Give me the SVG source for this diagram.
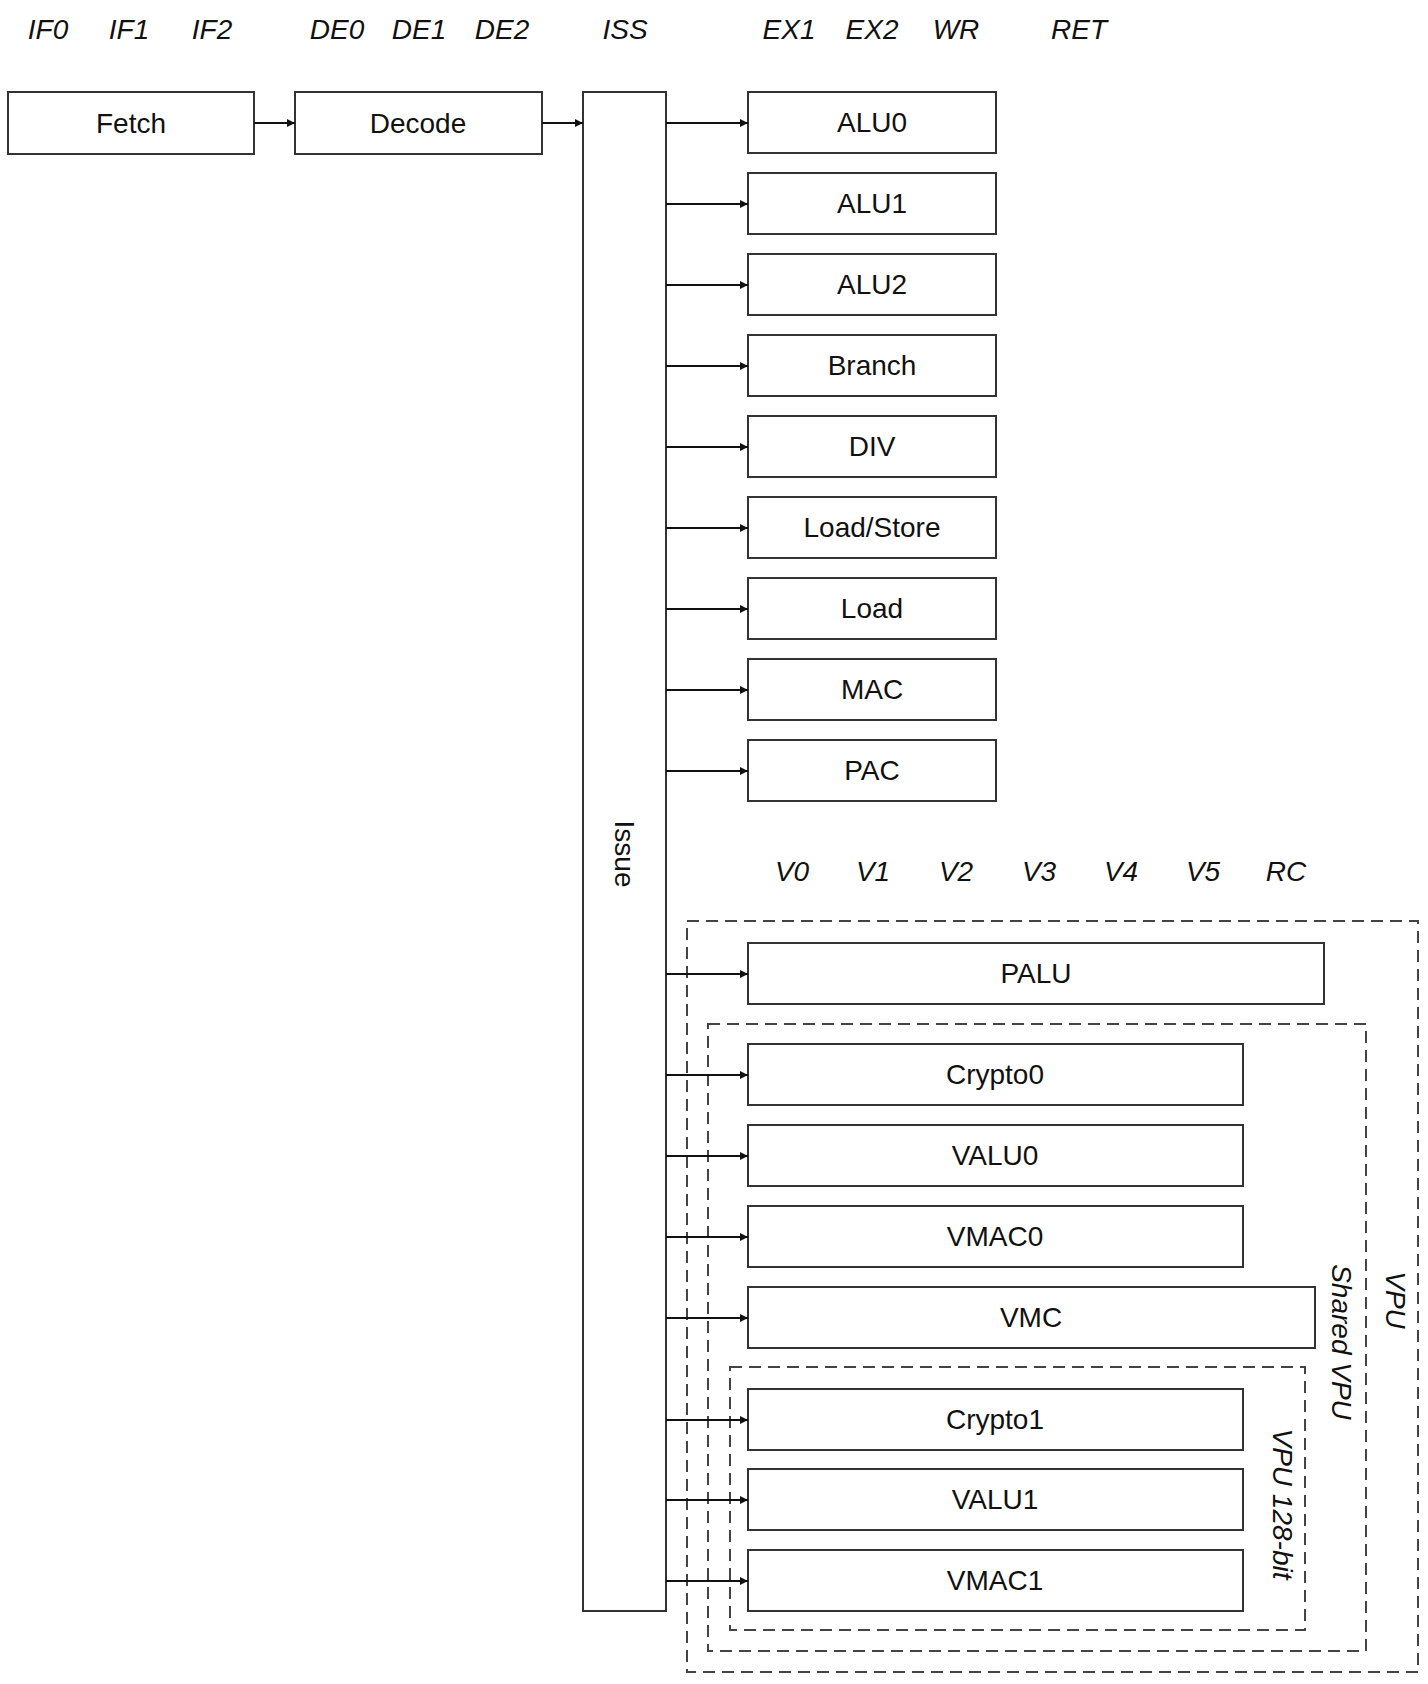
<svg xmlns="http://www.w3.org/2000/svg" width="1428" height="1684" viewBox="0 0 1428 1684">
<style>
.b{fill:#fff;stroke:#333;stroke-width:2}
.d{fill:none;stroke:#444;stroke-width:2;stroke-dasharray:12,7}
.t{font-family:"Liberation Sans",Arial,sans-serif;font-size:28px;fill:#111;text-anchor:middle;dominant-baseline:central}
.h{font-family:"Liberation Sans",Arial,sans-serif;font-size:28px;font-style:italic;fill:#111;text-anchor:middle}
.c{stroke:#111;stroke-width:2;fill:none;marker-end:url(#a)}
</style>
<defs><marker id="a" viewBox="0 0 10 10" refX="10" refY="5" markerWidth="8" markerHeight="8" markerUnits="userSpaceOnUse" orient="auto"><path d="M0,0L10,5L0,10z" fill="#111"/></marker></defs>
<rect width="1428" height="1684" fill="#fff"/>
<g id="headers">
<text class="h" x="48" y="39">IF0</text><text class="h" x="129" y="39">IF1</text><text class="h" x="212" y="39">IF2</text>
<text class="h" x="337" y="39">DE0</text><text class="h" x="419" y="39">DE1</text><text class="h" x="502" y="39">DE2</text>
<text class="h" x="625" y="39">ISS</text><text class="h" x="789" y="39">EX1</text><text class="h" x="872" y="39">EX2</text>
<text class="h" x="956" y="39">WR</text><text class="h" x="1079" y="39">RET</text>
<text class="h" x="792" y="881">V0</text><text class="h" x="873" y="881">V1</text><text class="h" x="956" y="881">V2</text>
<text class="h" x="1039" y="881">V3</text><text class="h" x="1121" y="881">V4</text><text class="h" x="1203" y="881">V5</text><text class="h" x="1286" y="881">RC</text>
</g>
<g id="groups">
<rect class="d" x="687" y="921" width="731" height="751"/>
<rect class="d" x="708" y="1024" width="658" height="627"/>
<rect class="d" x="730" y="1367" width="575" height="263"/>
<text class="h" transform="translate(1386,1300) rotate(90)">VPU</text>
<text class="h" transform="translate(1332,1342) rotate(90)">Shared VPU</text>
<text class="h" transform="translate(1273,1504) rotate(90)">VPU 128-bit</text>
</g>
<g id="fetch"><rect class="b" x="8" y="92" width="246" height="62"/><text class="t" x="131" y="123">Fetch</text></g>
<g id="decode"><rect class="b" x="295" y="92" width="247" height="62"/><text class="t" x="418" y="123">Decode</text></g>
<g id="issue"><rect class="b" x="583" y="92" width="83" height="1519"/><text class="t" transform="translate(624,854) rotate(90)">Issue</text></g>
<g id="alu0"><rect class="b" x="748" y="92" width="248" height="61"/><text class="t" x="872" y="122">ALU0</text></g>
<g id="alu1"><rect class="b" x="748" y="173" width="248" height="61"/><text class="t" x="872" y="203">ALU1</text></g>
<g id="alu2"><rect class="b" x="748" y="254" width="248" height="61"/><text class="t" x="872" y="284">ALU2</text></g>
<g id="branch"><rect class="b" x="748" y="335" width="248" height="61"/><text class="t" x="872" y="365">Branch</text></g>
<g id="div"><rect class="b" x="748" y="416" width="248" height="61"/><text class="t" x="872" y="446">DIV</text></g>
<g id="ls"><rect class="b" x="748" y="497" width="248" height="61"/><text class="t" x="872" y="527">Load/Store</text></g>
<g id="load"><rect class="b" x="748" y="578" width="248" height="61"/><text class="t" x="872" y="608">Load</text></g>
<g id="mac"><rect class="b" x="748" y="659" width="248" height="61"/><text class="t" x="872" y="689">MAC</text></g>
<g id="pac"><rect class="b" x="748" y="740" width="248" height="61"/><text class="t" x="872" y="770">PAC</text></g>
<g id="palu"><rect class="b" x="748" y="943" width="576" height="61"/><text class="t" x="1036" y="973">PALU</text></g>
<g id="crypto0"><rect class="b" x="748" y="1044" width="495" height="61"/><text class="t" x="995" y="1074">Crypto0</text></g>
<g id="valu0"><rect class="b" x="748" y="1125" width="495" height="61"/><text class="t" x="995" y="1155">VALU0</text></g>
<g id="vmac0"><rect class="b" x="748" y="1206" width="495" height="61"/><text class="t" x="995" y="1236">VMAC0</text></g>
<g id="vmc"><rect class="b" x="748" y="1287" width="567" height="61"/><text class="t" x="1031" y="1317">VMC</text></g>
<g id="crypto1"><rect class="b" x="748" y="1389" width="495" height="61"/><text class="t" x="995" y="1419">Crypto1</text></g>
<g id="valu1"><rect class="b" x="748" y="1469" width="495" height="61"/><text class="t" x="995" y="1499">VALU1</text></g>
<g id="vmac1"><rect class="b" x="748" y="1550" width="495" height="61"/><text class="t" x="995" y="1580">VMAC1</text></g>
<g id="connectors">
<path class="c" d="M254,123H295"/><path class="c" d="M542,123H583"/>
<path class="c" d="M666,123H748"/><path class="c" d="M666,204H748"/><path class="c" d="M666,285H748"/>
<path class="c" d="M666,366H748"/><path class="c" d="M666,447H748"/><path class="c" d="M666,528H748"/>
<path class="c" d="M666,609H748"/><path class="c" d="M666,690H748"/><path class="c" d="M666,771H748"/>
<path class="c" d="M666,974H748"/><path class="c" d="M666,1075H748"/><path class="c" d="M666,1156H748"/>
<path class="c" d="M666,1237H748"/><path class="c" d="M666,1318H748"/><path class="c" d="M666,1420H748"/>
<path class="c" d="M666,1500H748"/><path class="c" d="M666,1581H748"/>
</g>
</svg>
